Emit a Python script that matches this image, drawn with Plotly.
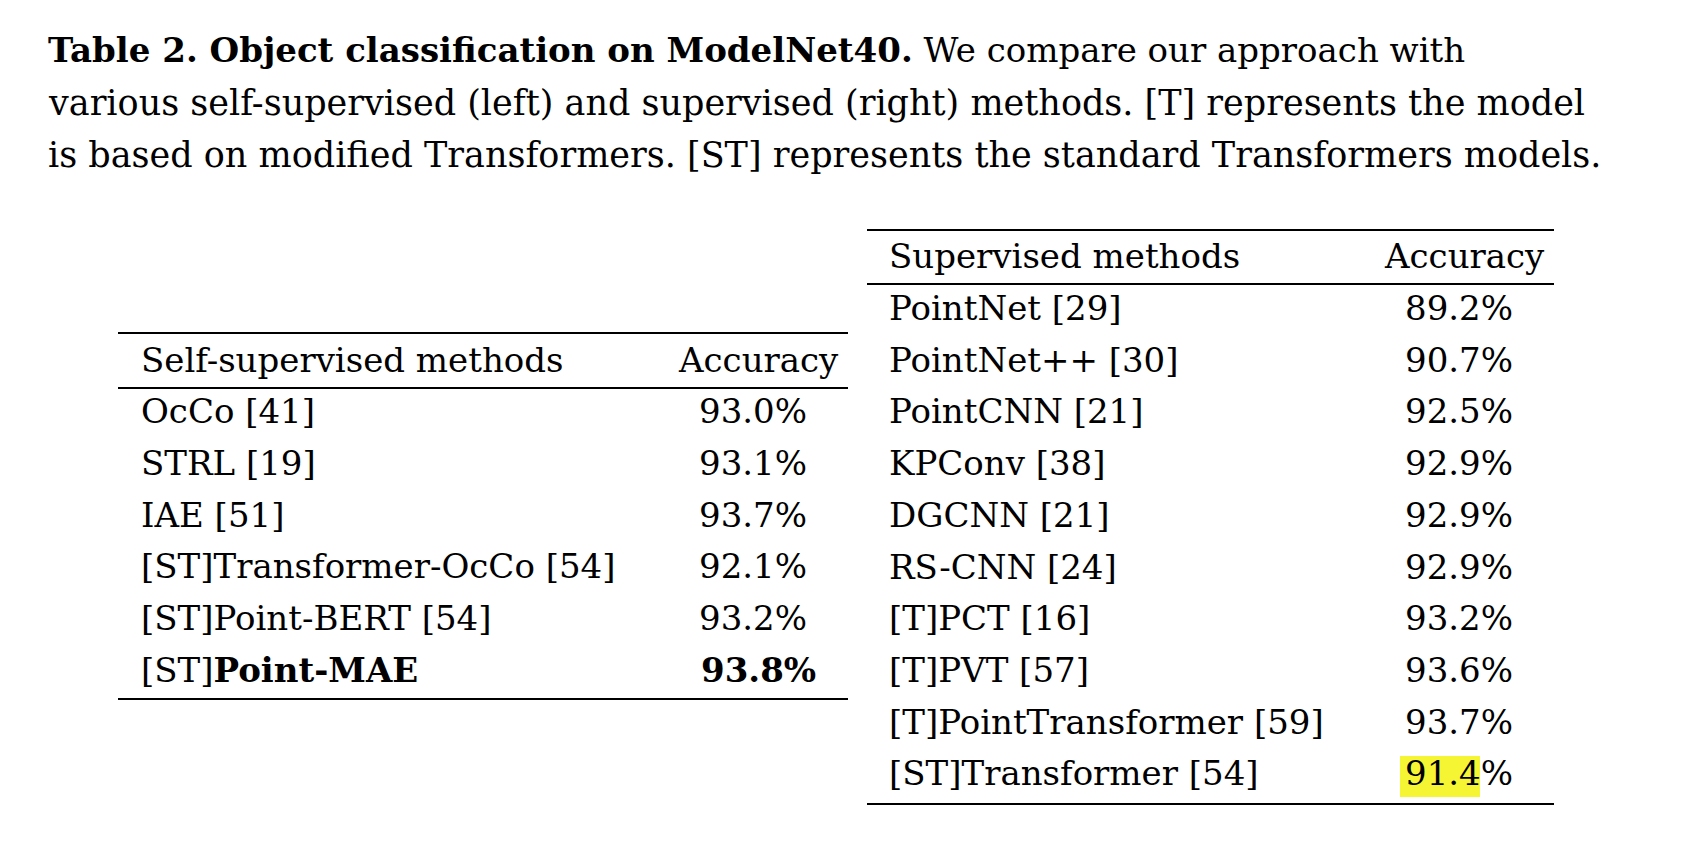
import plotly.graph_objects as go

caption = [
    "<b>Table 2. Object classification on ModelNet40.</b> We compare our approach with",
    "various self-supervised (left) and supervised (right) methods. [T] represents the model",
    "is based on modified Transformers. [ST] represents the standard Transformers models.",
]
self_methods = ["OcCo [41]", "STRL [19]", "IAE [51]", "[ST]Transformer-OcCo [54]",
                "[ST]Point-BERT [54]", "[ST]<b>Point-MAE</b>"]
self_acc = ["93.0%", "93.1%", "93.7%", "92.1%", "93.2%", "<b>93.8%</b>"]
sup_methods = ["PointNet [29]", "PointNet++ [30]", "PointCNN [21]", "KPConv [38]",
               "DGCNN [21]", "RS-CNN [24]", "[T]PCT [16]", "[T]PVT [57]",
               "[T]PointTransformer [59]", "[ST]Transformer [54]"]
sup_acc = ["89.2%", "90.7%", "92.5%", "92.9%", "92.9%", "92.9%", "93.2%", "93.6%",
           "93.7%", "91.4%"]

W, H = 1707, 868
FONT = "DejaVu Serif"
fig = go.Figure()
ann = []
shapes = []

def text(x, y, s, size=35, anchor="left"):
    ann.append(dict(x=x, y=y, xref="x", yref="y", text=s, showarrow=False,
                    xanchor=anchor, yanchor="middle",
                    font=dict(family=FONT, size=size, color="black")))

def rule(x0, x1, y, w=2):
    shapes.append(dict(type="line", xref="x", yref="y", x0=x0, x1=x1, y0=y, y1=y,
                       line=dict(color="black", width=w)))

cap_sizes = [34, 35, 35]
for i, line in enumerate(caption):
    text(38, 42 + i * 52.5, line, size=cap_sizes[i])

# left table
rule(110, 840, 325); rule(110, 840, 380); rule(110, 840, 691)
text(131, 352, "Self-supervised methods", size=34)
text(833, 352, "Accuracy", size=34, anchor="right")
for i, (m, a) in enumerate(zip(self_methods, self_acc)):
    y = 403 + i * 51.8
    text(131, y, m, size=34)
    text(810 if "<b>" in a else 801, y, a, size=34, anchor="right")

# right table
rule(859, 1546, 222); rule(859, 1546, 276); rule(859, 1546, 796)
text(879, 248, "Supervised methods", size=34)
text(1539, 248, "Accuracy", size=34, anchor="right")
shapes.append(dict(type="rect", xref="x", yref="y", x0=1392, x1=1472, y0=748, y1=789,
                   fillcolor="#f5f534", line=dict(width=0), layer="below"))
for i, (m, a) in enumerate(zip(sup_methods, sup_acc)):
    y = 300 + i * 51.7
    text(879, y, m, size=34)
    text(1507, y, a, size=34, anchor="right")

fig.update_layout(width=W, height=H, margin=dict(l=0, r=0, t=0, b=0),
                  paper_bgcolor="white", plot_bgcolor="white",
                  annotations=ann, shapes=shapes, showlegend=False,
                  xaxis=dict(range=[0, W], visible=False, fixedrange=True),
                  yaxis=dict(range=[H, 0], visible=False, fixedrange=True))
fig.write_html("out.html")
